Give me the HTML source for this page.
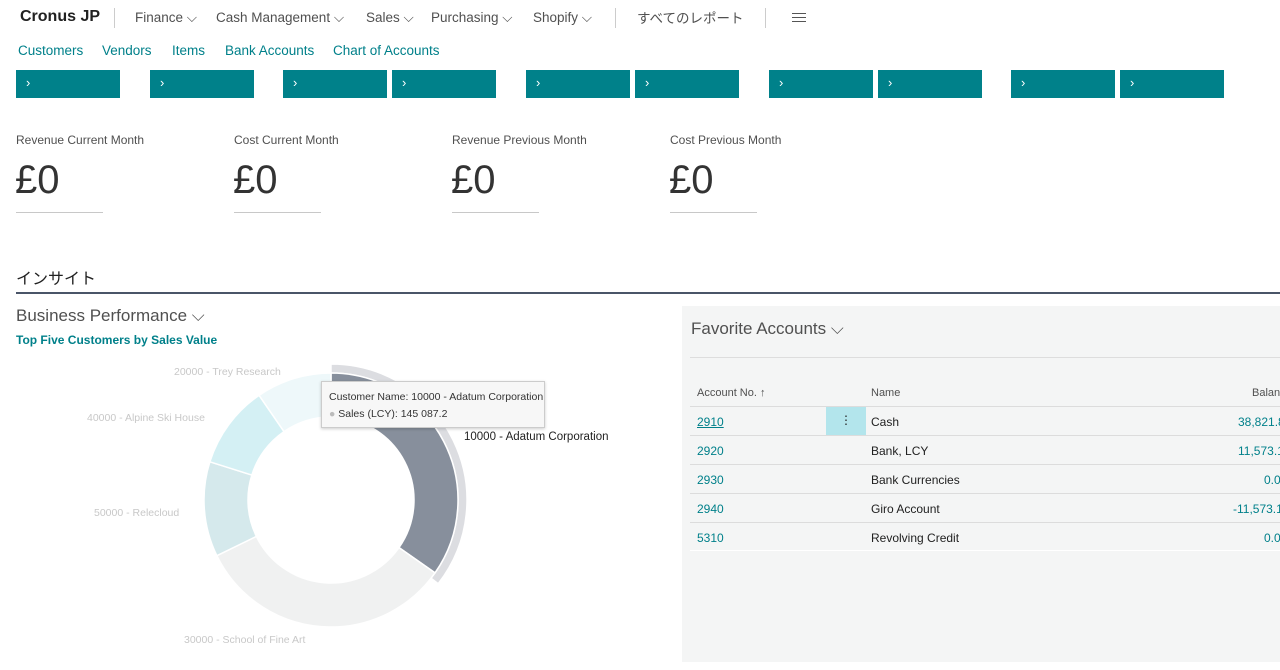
<!DOCTYPE html>
<html><head><meta charset="utf-8"><style>
*{margin:0;padding:0;box-sizing:border-box}
body{width:1280px;height:670px;overflow:hidden;background:#fff;font-family:"Liberation Sans","Noto Sans CJK JP",sans-serif;color:#212121;position:relative}
.a{position:absolute;white-space:nowrap}
.nav{font-size:13.5px;color:#505050;top:10px}
.lnk{font-size:13.5px;color:#00808a;top:43px}
.tile{position:absolute;top:70px;height:28px;width:104px;background:#00818a;color:#fff;font-size:13px;padding:5px 0 0 10px}
.kl{font-size:12px;color:#505050;top:133px}
.kv{font-size:40px;font-weight:300;color:#333;top:158px}
.ku{position:absolute;top:212px;height:1px;width:87px;background:#c8c8c8}
.row{position:absolute;left:690px;width:590px;height:29px;border-top:1px solid #dcdcdc;font-size:12px}
.row span{position:absolute;top:8px}
</style></head><body>
<div class="a" style="left:20px;top:8px;font-size:16px;font-weight:bold;color:#212121">Cronus JP</div>
<div class="a" style="left:114px;top:8px;width:1px;height:20px;background:#ccc"></div>
<div class="a nav" style="left:135px">Finance ⌵</div>
<div class="a nav" style="left:216px">Cash Management ⌵</div>
<div class="a nav" style="left:366px">Sales ⌵</div>
<div class="a nav" style="left:431px">Purchasing ⌵</div>
<div class="a nav" style="left:533px">Shopify ⌵</div>
<div class="a" style="left:615px;top:8px;width:1px;height:20px;background:#ccc"></div>
<div class="a nav" style="left:637px;top:7px">すべてのレポート</div>
<div class="a" style="left:765px;top:8px;width:1px;height:20px;background:#ccc"></div>
<div class="a" style="left:792px;top:9px;width:14px;height:1px;background:#555;box-shadow:0 4px 0 #555,0 8px 0 #555;margin-top:4px"></div>
<div class="a lnk" style="left:18px">Customers</div>
<div class="a lnk" style="left:102px">Vendors</div>
<div class="a lnk" style="left:172px">Items</div>
<div class="a lnk" style="left:225px">Bank Accounts</div>
<div class="a lnk" style="left:333px">Chart of Accounts</div>
<div class="tile" style="left:16px">›</div><div class="tile" style="left:150px">›</div>
<div class="tile" style="left:283px">›</div><div class="tile" style="left:392px">›</div>
<div class="tile" style="left:526px">›</div><div class="tile" style="left:635px">›</div>
<div class="tile" style="left:769px">›</div><div class="tile" style="left:878px">›</div>
<div class="tile" style="left:1011px">›</div><div class="tile" style="left:1120px">›</div>
<div class="a kl" style="left:16px">Revenue Current Month</div>
<div class="a kl" style="left:234px">Cost Current Month</div>
<div class="a kl" style="left:452px">Revenue Previous Month</div>
<div class="a kl" style="left:670px">Cost Previous Month</div>
<div class="a kv" style="left:15px">£0</div><div class="a kv" style="left:233px">£0</div>
<div class="a kv" style="left:451px">£0</div><div class="a kv" style="left:669px">£0</div>
<div class="ku" style="left:16px"></div><div class="ku" style="left:234px"></div><div class="ku" style="left:452px"></div><div class="ku" style="left:670px"></div>
<div class="a" style="left:16px;top:265px;font-size:16px">インサイト</div>
<div class="a" style="left:16px;top:292px;width:1264px;height:2px;background:#4a5568"></div>
<div class="a" style="left:16px;top:306px;font-size:17px;color:#505050">Business Performance ⌵</div>
<div class="a" style="left:16px;top:333px;font-size:12px;font-weight:bold;color:#00808a">Top Five Customers by Sales Value</div>
<svg class="a" style="left:0;top:350px" width="680" height="320" id="s"></svg>
<div class="a" style="left:321px;top:381px;width:224px;height:47px;background:#f7f7f7;border:1px solid #ccc;box-shadow:0 1px 3px rgba(0,0,0,.2);font-size:10.5px;padding:7px 0 0 7px;line-height:17px;color:#333">Customer Name: 10000 - Adatum Corporation<br><span style="color:#bbb">●</span> Sales (LCY): 145 087.2</div>
<div class="a" style="left:682px;top:306px;width:598px;height:356px;background:#f4f5f5"></div>
<div class="a" style="left:691px;top:319px;font-size:17px;color:#505050">Favorite Accounts ⌵</div>
<div class="a" style="left:690px;top:357px;width:590px;height:1px;background:#ddd"></div>
<div class="a" style="left:697px;top:387px;font-size:11px;color:#505050">Account No. ↑</div>
<div class="a" style="left:871px;top:387px;font-size:11px;color:#505050">Name</div>
<div class="a" style="left:1252px;top:387px;font-size:11px;color:#505050">Balance</div>
<div class="row" style="top:406px"><span style="left:7px;color:#00808a;text-decoration:underline">2910</span><span style="left:136px;top:0;width:40px;height:28px;background:#b3e5ec;text-align:center;padding-top:6px">⋮</span><span style="left:181px">Cash</span><span style="left:548px;color:#00808a">38,821.8</span></div>
<div class="row" style="top:435px"><span style="left:7px;color:#00808a">2920</span><span style="left:181px">Bank, LCY</span><span style="left:548px;color:#00808a">11,573.1</span></div>
<div class="row" style="top:464px"><span style="left:7px;color:#00808a">2930</span><span style="left:181px">Bank Currencies</span><span style="left:574px;color:#00808a">0.0</span></div>
<div class="row" style="top:493px"><span style="left:7px;color:#00808a">2940</span><span style="left:181px">Giro Account</span><span style="left:543px;color:#00808a">-11,573.1</span></div>
<div class="row" style="top:522px;border-bottom:1px solid #fff"><span style="left:7px;color:#00808a">5310</span><span style="left:181px">Revolving Credit</span><span style="left:574px;color:#00808a">0.0</span></div>
<script>
var s=document.getElementById('s'),cx=331,cy=150;
function pt(r,a){a=a*Math.PI/180;return [cx+r*Math.sin(a),cy-r*Math.cos(a)];}
function arc(r1,r2,a1,a2,c){var p1=pt(r2,a1),p2=pt(r2,a2),p3=pt(r1,a2),p4=pt(r1,a1),l=(a2-a1)>180?1:0;
var d='M'+p1+' A'+r2+','+r2+' 0 '+l+' 1 '+p2+' L'+p3+' A'+r1+','+r1+' 0 '+l+' 0 '+p4+'Z';
s.innerHTML+='<path d="'+d+'" fill="'+c+'" stroke="#fff" stroke-width="1.5"/>';}
arc(127,136,0,128,'#dcdde1');
arc(83,127,0,125,'#878f9c');
arc(83,127,125,244,'#f0f1f1');
arc(83,127,244,287.5,'#d5e9ec');
arc(83,127,287.5,325.5,'#d4f0f4');
arc(83,127,325.5,360,'#eef8fa');
function t(x,y,txt,c){s.innerHTML+='<text x="'+x+'" y="'+y+'" font-size="10.5" fill="'+c+'" font-family="Liberation Sans">'+txt+'</text>';}
t(174,25,'20000 - Trey Research','#c8c8c8');
t(87,71,'40000 - Alpine Ski House','#c8c8c8');
t(94,166,'50000 - Relecloud','#c8c8c8');
t(184,293,'30000 - School of Fine Art','#c8c8c8');
s.innerHTML+='<text x="464" y="90" font-size="11.5" fill="#222" font-family="Liberation Sans">10000 - Adatum Corporation</text>';
</script>
</body></html>
